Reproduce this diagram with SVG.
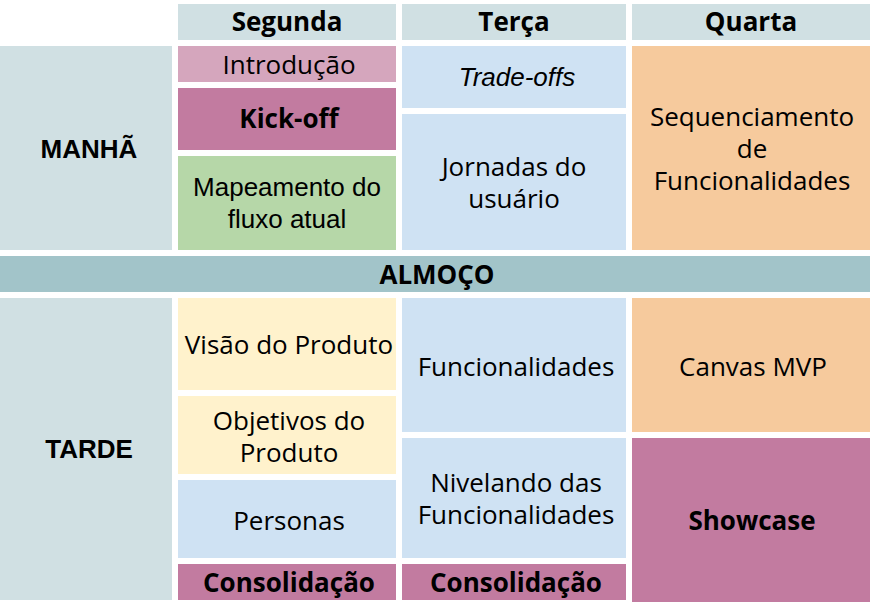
<svg xmlns="http://www.w3.org/2000/svg" width="876" height="610" viewBox="0 0 876 610">
<style>
text{font-family:"Open Sans","Liberation Sans",sans-serif;font-size:26px;text-anchor:middle;fill:#000}
.a{font-family:"Liberation Sans",Arial,sans-serif}
.b{font-weight:bold}
.hd{fill:#d0e0e3}.bl{fill:#cfe2f3}.or{fill:#f6ca9d}.pk{fill:#c27ba0}.lp{fill:#d5a6bd}.gr{fill:#b6d7a8}.cr{fill:#fff2cc}.al{fill:#a2c4c9}
</style>
<rect width="876" height="610" fill="#fff"/>
<g id="h-seg"><rect class="hd" x="178" y="4" width="218" height="36"/><text class="b" x="287" y="31">Segunda</text></g>
<g id="h-ter"><rect class="hd" x="402" y="4" width="224" height="36"/><text class="b" x="514" y="31">Terça</text></g>
<g id="h-qua"><rect class="hd" x="632" y="4" width="238" height="36"/><text class="b" x="751" y="31">Quarta</text></g>
<g id="manha"><rect class="hd" x="0" y="46" width="172" height="204"/><text class="a b" x="89" y="158">MANHÃ</text></g>
<g id="intro"><rect class="lp" x="178" y="46" width="218" height="36"/><text x="289" y="74">Introdução</text></g>
<g id="kick"><rect class="pk" x="178" y="88" width="218" height="62"/><text class="b" x="289" y="128">Kick-off</text></g>
<g id="mapa"><rect class="gr" x="178" y="156" width="218" height="94"/><text class="a" x="287" y="196">Mapeamento do</text><text class="a" x="287" y="228">fluxo atual</text></g>
<g id="trade"><rect class="bl" x="402" y="46" width="224" height="62"/><text class="a" x="517" y="86" font-style="italic">Trade-offs</text></g>
<g id="jorn"><rect class="bl" x="402" y="114" width="224" height="136"/><text x="514" y="176">Jornadas do</text><text x="514" y="208">usuário</text></g>
<g id="seq"><rect class="or" x="632" y="46" width="238" height="204"/><text x="752" y="126">Sequenciamento</text><text x="752" y="158">de</text><text x="752" y="190">Funcionalidades</text></g>
<g id="almoco"><rect class="al" x="0" y="256" width="870" height="36"/><text class="b" x="437" y="284">ALMOÇO</text></g>
<g id="tarde"><rect class="hd" x="0" y="298" width="172" height="302"/><text class="a b" x="89" y="458">TARDE</text></g>
<g id="visao"><rect class="cr" x="178" y="298" width="218" height="92"/><text x="289" y="354">Visão do Produto</text></g>
<g id="obj"><rect class="cr" x="178" y="396" width="218" height="78"/><text x="289" y="430">Objetivos do</text><text x="289" y="462">Produto</text></g>
<g id="pers"><rect class="bl" x="178" y="480" width="218" height="78"/><text x="289" y="530">Personas</text></g>
<g id="cons1"><rect class="pk" x="178" y="564" width="218" height="36"/><text class="b" x="289" y="592">Consolidação</text></g>
<g id="func"><rect class="bl" x="402" y="298" width="224" height="134"/><text x="516" y="376">Funcionalidades</text></g>
<g id="nivel"><rect class="bl" x="402" y="438" width="224" height="120"/><text x="516" y="492">Nivelando das</text><text x="516" y="524">Funcionalidades</text></g>
<g id="cons2"><rect class="pk" x="402" y="564" width="224" height="36"/><text class="b" x="516" y="592">Consolidação</text></g>
<g id="canvas"><rect class="or" x="632" y="298" width="238" height="134"/><text x="753" y="376">Canvas MVP</text></g>
<g id="show"><rect class="pk" x="632" y="438" width="238" height="164"/><text class="b" x="752" y="530">Showcase</text></g>
<g id="connectors"/>
</svg>
